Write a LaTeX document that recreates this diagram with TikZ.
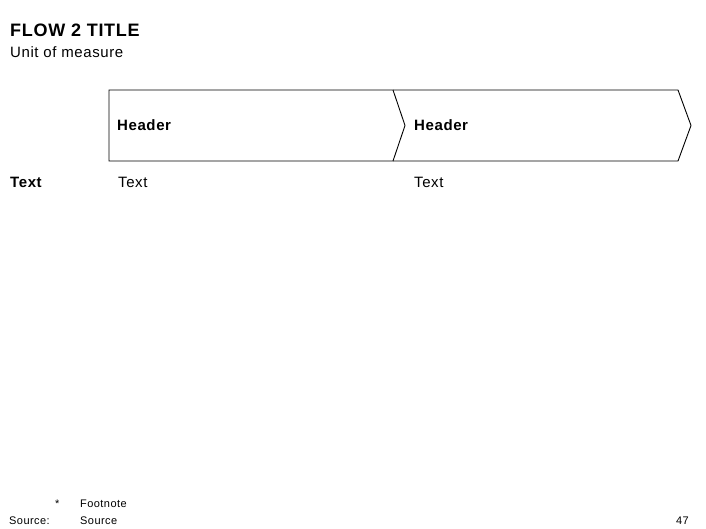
\documentclass[tikz,border=0pt]{standalone}
\usepackage{fontspec}
\setmainfont[LetterSpace=4]{Liberation Sans}
\tikzstyle{lbl}=[anchor=base west,inner sep=0pt,font=\fontsize{15}{15}\selectfont]
\tikzstyle{hdr}=[lbl,font=\fontsize{15}{15}\selectfont\bfseries]
\tikzstyle{small}=[anchor=base west,inner sep=0pt,font=\fontsize{11}{11}\selectfont]
\tikzstyle{chev}=[draw,line width=0.9pt,line join=miter]
\begin{document}
\begin{tikzpicture}[x=1pt, y=-1pt]
			\useasboundingbox (0,0) rectangle (706,529);
			\node [anchor=base west,inner sep=0pt,font=\fontsize{18}{18}\selectfont\bfseries] (title) at (10,37) {FLOW 2 TITLE};
			\node [lbl]   (unit)    at (10,58) {Unit of measure};

			% chevrons
			\coordinate (a1) at (109,90);
			\coordinate (a2) at (393,90);
			\coordinate (a3) at (405,125.5);
			\coordinate (a4) at (393,161);
			\coordinate (a5) at (109,161);
			\coordinate (b2) at (678,90);
			\coordinate (b3) at (691,125.5);
			\coordinate (b4) at (678,161);
			\draw [chev] (a1) -- (a2) -- (a3) -- (a4) -- (a5) -- cycle;
			\draw [chev] (a2) -- (b2) -- (b3) -- (b4) -- (a4);

			\node [hdr]   (head1)   at (117,131) {Header};
			\node [hdr]   (head2)   at (414,131) {Header};
			\node [hdr]   (rowlbl)  at (10,188) {Text};
			\node [lbl]   (text1)   at (118,188) {Text};
			\node [lbl]   (text2)   at (414,188) {Text};

			\node [small] (star)    at (55,507) {*};
			\node [small] (foot)    at (80,507) {Footnote};
			\node [small] (srclbl)  at (9,524) {Source:};
			\node [small] (src)     at (80,524) {Source};
			\node [small,anchor=base east] (page) at (689,524) {47};
	\end{tikzpicture}
\end{document}
